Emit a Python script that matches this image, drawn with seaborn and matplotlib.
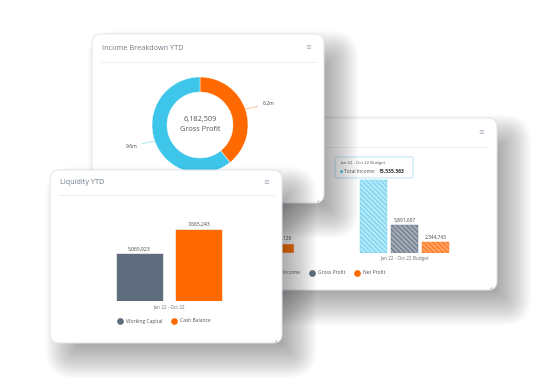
import numpy as np
import pandas as pd
import matplotlib
matplotlib.use('Agg')
import matplotlib.pyplot as plt
from matplotlib.patches import FancyBboxPatch
from matplotlib.lines import Line2D
import seaborn as sns

# ---- data ----
donut_labels = ['Gross Profit', 'Other Income']
donut_values = [6.2, 9.6]
donut_text = ['6.2m', '9.6m']
gross_profit_total = '6,182,509'

income_periods = ['Jan 22 - Oct 22', 'Jan 22 - Oct 22 Budget']
income_series = ['Total Income', 'Gross Profit', 'Net Profit']
income_actual = [15810000, 6182509, 2131126]
income_budget = [15535563, 5891607, 2344743]

liq_period = ['Jan 22 - Oct 22']
liq_series = ['Working Capital', 'Cash Balance']
liq_values = [5065923, 7665243]

BLUE = '#3ec5ea'
ORANGE = '#ff6a00'
SLATE = '#5f6c7d'
series_colors = {'Total Income': BLUE, 'Gross Profit': SLATE, 'Net Profit': ORANGE}
# budget bars: light fill + stripe colour
budget_fill = {'Total Income': '#b6e9f8', 'Gross Profit': '#a4acb7', 'Net Profit': '#ffa365'}
budget_hatch = {'Total Income': '#74d2ef', 'Gross Profit': '#6c7787', 'Net Profit': '#ff7619'}

sns.set_theme(style='white')
plt.rcParams['font.family'] = ['Open Sans', 'DejaVu Sans']
plt.rcParams['hatch.linewidth'] = 0.8

W, H = 560, 388
fig = plt.figure(figsize=(W / 100, H / 100), dpi=100, facecolor='white')


def px_axes(x0, y0, x1, y1, z):
    ax = fig.add_axes([x0 / W, 1 - y1 / H, (x1 - x0) / W, (y1 - y0) / H], zorder=z)
    ax.set_facecolor('none')
    return ax


def layer(z):
    ax = px_axes(0, 0, W, H, z)
    ax.set_xlim(0, W)
    ax.set_ylim(H, 0)
    ax.axis('off')
    return ax


def card(ax, box, sep, title=None):
    x0, y0, x1, y1 = box
    # soft drop shadow
    dx, dy, blur, n = 15, 16, 40, 28
    for k in range(n):
        s = blur * (k + 0.5) / n - blur / 2
        ax.add_patch(FancyBboxPatch((x0 + dx - s, y0 + dy - s), x1 - x0 + 2 * s, y1 - y0 + 2 * s,
                                    boxstyle=f'round,pad=0,rounding_size={max(9 + s, 1)}',
                                    fc='#3a3a3a', ec='none', alpha=0.021))
    ax.add_patch(FancyBboxPatch((x0, y0), x1 - x0, y1 - y0,
                                boxstyle='round,pad=0,rounding_size=9',
                                fc='white', ec='#dde6ee', lw=0.7))
    ax.plot([x0 + 8, x1 - 8], [sep, sep], color='#edf1f6', lw=0.7)
    if title:
        ax.text(x0 + 10, (y0 + sep) / 2, title, fontsize=5.2, color='#6f7a87', va='center')
    ax.text(x1 - 16, (y0 + sep) / 2, '\u2261', fontsize=5, color='#a3abb7', va='center', ha='center')
    ax.text(x1 - 6, y1 - 4, '\u231f', fontsize=3.5, color='#888888', va='center', ha='center')


def clean(ax):
    for sp in ax.spines.values():
        sp.set_visible(False)
    ax.set_yticks([])
    ax.set_xlabel('')
    ax.set_ylabel('')
    ax.tick_params(axis='x', length=0, labelsize=3.4, labelcolor='#707070', pad=2.5)


# ---- card 2: income vs budget (back) ----
bg2 = layer(1)
card(bg2, (180, 118, 497, 290), 147)

df_inc = pd.DataFrame({
    'period': [income_periods[0]] * 3 + [income_periods[1]] * 3,
    'series': income_series * 2,
    'value': income_actual + income_budget,
})
ax2 = px_axes(172, 160, 482, 253, 2)
sns.barplot(data=df_inc, x='period', y='value', hue='series', hue_order=income_series,
            palette=series_colors, saturation=1, width=0.6, gap=0.16, legend=False, ax=ax2)
for name, cont in zip(income_series, ax2.containers):
    bud = cont.patches[1]
    bud.set_facecolor(budget_fill[name])
    bud.set_edgecolor(budget_hatch[name])
    bud.set_linewidth(0.3)
    bud.set_hatch('\\' * 7)
    ax2.bar_label(cont, labels=[f'{v:,.0f}' for v in cont.datavalues],
                  fontsize=3.5, color='#444444', padding=1.5)
ax2.set_xlim(-0.5, 1.5)
ax2.set_ylim(0, 19.79e6)
clean(ax2)
ax2.legend(handles=[Line2D([], [], marker='o', ls='', color=series_colors[s], markersize=3.8)
                    for s in income_series],
           labels=income_series, loc='center', bbox_to_anchor=(322 / W, 1 - 273 / H),
           bbox_transform=fig.transFigure, ncol=3, frameon=False, fontsize=3.6,
           handletextpad=0.2, columnspacing=1.4, labelcolor='#555555')

fg2 = layer(2.5)
fg2.add_patch(FancyBboxPatch((335, 157), 78, 21, boxstyle='round,pad=0,rounding_size=2',
                             fc='white', ec='#a9dcee', lw=0.6, alpha=0.95))
fg2.text(340, 163, 'Jan 22 - Oct 22 Budget', fontsize=3.2, color='#555555', va='center')
fg2.text(340, 171.5, '\u25cf', fontsize=2.6, color=BLUE, va='center')
fg2.text(344, 171.5, 'Total Income:', fontsize=3.6, color='#555555', va='center')
fg2.text(379, 171.5, f'{income_budget[0]:,.0f}', fontsize=3.6, color='#333333',
         va='center', fontweight='bold')

# ---- card 1: income breakdown donut ----
bg1 = layer(3)
card(bg1, (92, 34, 324, 203), 62, 'Income Breakdown YTD')

ax1 = px_axes(140, 65, 260, 185, 4)
wedges, _ = ax1.pie(donut_values, colors=[ORANGE, BLUE], startangle=90, counterclock=False,
                    radius=0.8, wedgeprops=dict(width=0.25, edgecolor='white', linewidth=0.3))
ax1.set_xlim(-1, 1)
ax1.set_ylim(-1, 1)
ax1.set_aspect('equal')
line_cols = ['#ffb98a', '#9fe0f4']
for w, txt, lc in zip(wedges, donut_text, line_cols):
    a = np.deg2rad((w.theta1 + w.theta2) / 2)
    c, s = np.cos(a), np.sin(a)
    ax1.annotate(txt, xy=(0.8 * c, 0.8 * s), xytext=(1.06 * c + 0.04 * np.sign(c), 1.06 * s),
                 ha='left' if c > 0 else 'right', va='center', fontsize=3.6, color='#444444',
                 arrowprops=dict(arrowstyle='-', color=lc, lw=0.6, shrinkA=1, shrinkB=0))
ax1.text(0, 0.1, gross_profit_total, ha='center', va='center', fontsize=5.3, color='#555555')
ax1.text(0, -0.08, donut_labels[0], ha='center', va='center', fontsize=5.3, color='#555555')
ax1.axis('off')

# ---- card 3: liquidity (front) ----
bg3 = layer(5)
card(bg3, (50, 170, 282, 343), 195, 'Liquidity YTD')

df_liq = pd.DataFrame({'period': liq_period * 2, 'series': liq_series, 'value': liq_values})
ax3 = px_axes(70, 205, 268, 301, 6)
sns.barplot(data=df_liq, x='period', y='value', hue='series', hue_order=liq_series,
            palette=[SLATE, ORANGE], saturation=1, width=0.6, gap=0.2, legend=False,
            edgecolor='#f3f3f3', linewidth=0.5, ax=ax3)
for cont in ax3.containers:
    ax3.bar_label(cont, labels=[f'{v:,.0f}' for v in cont.datavalues],
                  fontsize=3.6, color='#444444', padding=1.5)
ax3.set_xlim(-0.5, 0.5)
ax3.set_ylim(0, 10.22e6)
clean(ax3)
ax3.legend(handles=[Line2D([], [], marker='o', ls='', color=c, markersize=3.8)
                    for c in [SLATE, ORANGE]],
           labels=liq_series, loc='center', bbox_to_anchor=(163 / W, 1 - 321 / H),
           bbox_transform=fig.transFigure, ncol=2, frameon=False, fontsize=3.6,
           handletextpad=0.2, columnspacing=1.4, labelcolor='#555555')

fig.savefig('out.png', dpi=100, facecolor='white')
